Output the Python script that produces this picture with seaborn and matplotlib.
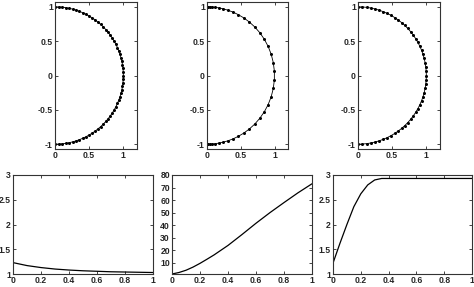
import numpy as np
import pandas as pd
import matplotlib
matplotlib.use("Agg")
import matplotlib.pyplot as plt
import seaborn as sns

sns.set_style("ticks")
plt.rcParams['font.family'] = ['Liberation Sans', 'DejaVu Sans']
plt.rcParams['font.weight'] = 'bold'
plt.rcParams['xtick.direction'] = 'in'
plt.rcParams['ytick.direction'] = 'in'

# Node angles (degrees) along the half circle for the three top panels
angles_left = [-90, -87, -84, -81, -78, -75, -72, -69, -66, -63, -60, -57, -54, -51, -48,
               -45, -42, -39, -36, -33, -30, -27, -24, -21, -18, -15, -12, -9, -6, -3,
               0, 3, 6, 9, 12, 15, 18, 21, 24, 27, 30, 33, 36, 39, 42, 45, 48, 51, 54,
               57, 60, 63, 66, 69, 72, 75, 78, 81, 84, 87, 90]
angles_mid = [-90, -89.71, -88.83, -87.38, -85.37, -82.80, -79.69, -76.07, -71.96, -67.38,
              -62.37, -56.92, -51.13, -45.0, -38.58, -31.91, -25.04, -18.0, -10.85, -3.63,
              3.63, 10.85, 18.0, 25.04, 31.91, 38.58, 45.0, 51.13, 56.92, 62.37,
              67.38, 71.96, 76.07, 79.69, 82.80, 85.37, 87.38, 88.83, 89.71, 90]
angles_right = [-90, -86.4, -82.8, -79.2, -75.6, -72, -68.4, -64.8, -61.2, -57.6, -54,
                -50.4, -46.8, -43.2, -39.6, -36, -32.4, -28.8, -25.2, -21.6, -18, -14.4,
                -10.8, -7.2, -3.6, 0, 3.6, 7.2, 10.8, 14.4, 18, 21.6, 25.2, 28.8, 32.4,
                36, 39.6, 43.2, 46.8, 50.4, 54, 57.6, 61.2, 64.8, 68.4, 72, 75.6, 79.2,
                82.8, 86.4, 90]

# Bottom-row curves
s_vals = [0.0, 0.05, 0.1, 0.15, 0.2, 0.25, 0.3, 0.35, 0.4, 0.5, 0.6, 0.7, 0.8, 0.9, 1.0]
curve_left = [1.23, 1.20, 1.17, 1.15, 1.13, 1.115, 1.10, 1.09, 1.08, 1.065, 1.055,
              1.045, 1.04, 1.035, 1.03]
curve_mid = [1.0, 2.2, 4.0, 6.5, 9.5, 12.8, 16.2, 20.0, 23.8, 32.5, 41.5, 50.0, 58.0,
             65.8, 73.0]
curve_right = [1.22, 1.62, 2.0, 2.36, 2.62, 2.80, 2.90, 2.93, 2.93, 2.93, 2.93, 2.93,
               2.93, 2.93, 2.93]

W, H = 474, 287
fig = plt.figure(figsize=(W / 100, H / 100), dpi=100)

def rect(l, r, t, b):
    return [l / W, 1 - b / H, (r - l) / W, (b - t) / H]

top_rects = [rect(55, 137, 2, 149), rect(207, 288, 2, 149), rect(358, 440, 2, 149)]
bot_rects = [rect(13, 153, 175, 274), rect(172, 312, 175, 274), rect(333, 472, 175, 274)]

fs = 6.2

def style(ax):
    ax.tick_params(axis='both', which='both', direction='in', length=2, width=0.6,
                   labelsize=fs, top=True, right=True, pad=1.5)
    for sp in ax.spines.values():
        sp.set_visible(True)
        sp.set_linewidth(0.8)
        sp.set_color('#333333')
    for lab in ax.get_xticklabels() + ax.get_yticklabels():
        lab.set_fontweight('bold')
    ax.set_xlabel('')
    ax.set_ylabel('')

for angs, rc, ms in zip([angles_left, angles_mid, angles_right], top_rects, [2.2, 2.2, 2.2]):
    ax = fig.add_axes(rc)
    th = np.deg2rad(np.array(angs))
    df = pd.DataFrame({'x': np.cos(th), 'y': np.sin(th)})
    sns.lineplot(data=df, x='x', y='y', sort=False, ax=ax, color='black', lw=0.6,
                 marker='o', markersize=ms, markeredgewidth=0, estimator=None)
    ax.set_xlim(0, 1.2)
    ax.set_ylim(-1.07, 1.07)
    ax.set_xticks([0, 0.5, 1])
    ax.set_xticklabels(['0', '0.5', '1'])
    ax.set_yticks([-1, -0.5, 0, 0.5, 1])
    ax.set_yticklabels(['-1', '-0.5', '0', '0.5', '1'])
    style(ax)

ylims = [(1, 3), (1, 80), (1, 3)]
yticks = [[1, 1.5, 2, 2.5, 3], [10, 20, 30, 40, 50, 60, 70, 80], [1, 1.5, 2, 2.5, 3]]
for vals, rc, yl, yt in zip([curve_left, curve_mid, curve_right], bot_rects, ylims, yticks):
    ax = fig.add_axes(rc)
    df = pd.DataFrame({'s': s_vals, 'v': vals})
    sns.lineplot(data=df, x='s', y='v', ax=ax, color='black', lw=0.9, estimator=None)
    ax.set_xlim(0, 1)
    ax.set_ylim(*yl)
    ax.set_xticks([0, 0.2, 0.4, 0.6, 0.8, 1])
    ax.set_xticklabels(['0', '0.2', '0.4', '0.6', '0.8', '1'])
    ax.set_yticks(yt)
    ax.set_yticklabels([('%g' % v) for v in yt])
    style(ax)

fig.savefig('out.png', dpi=100)
